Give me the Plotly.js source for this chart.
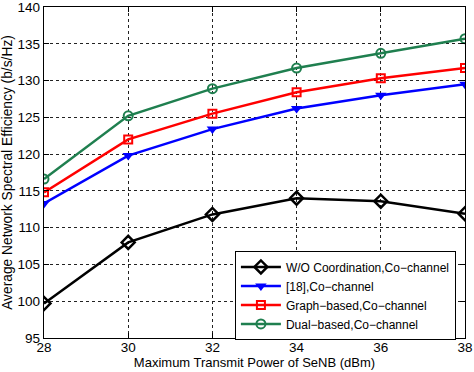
<!DOCTYPE html>
<html><head><meta charset="utf-8">
<script src="https://cdn.plot.ly/plotly-3.0.1.min.js"></script>
<style>html,body{margin:0;padding:0;background:#fff}#c{width:474px;height:372px}</style>
</head><body><div id="c"></div>
<script>
const power = [28, 30, 32, 34, 36, 38];
const woCoord = [99.7, 108.0, 111.8, 114.0, 113.6, 111.9];
const ref18 = [113.3, 119.8, 123.4, 126.2, 128.0, 129.5];
const graphBased = [114.8, 122.0, 125.5, 128.4, 130.3, 131.7];
const dualBased = [116.6, 125.2, 128.9, 131.7, 133.7, 135.7];
const names = ["W/O Coordination,Co\u2212channel", "[18],Co\u2212channel", "Graph\u2212based,Co\u2212channel", "Dual\u2212based,Co\u2212channel"];

const traces = [
  {x: power, y: woCoord, name: names[0], mode: 'lines+markers',
   line: {color: '#000000', width: 2.5},
   marker: {symbol: 'diamond-open', size: 10, color: '#000000', line: {width: 2.5}}},
  {x: power, y: ref18, name: names[1], mode: 'lines+markers',
   line: {color: '#0000ff', width: 2.5},
   marker: {symbol: 'triangle-down', size: 10, color: '#0000ff'}},
  {x: power, y: graphBased, name: names[2], mode: 'lines+markers',
   line: {color: '#ff0000', width: 2.5},
   marker: {symbol: 'square-open', size: 8, color: '#ff0000', line: {width: 2}}},
  {x: power, y: dualBased, name: names[3], mode: 'lines+markers',
   line: {color: '#1f7f4f', width: 2.5},
   marker: {symbol: 'circle-open', size: 9, color: '#1f7f4f', line: {width: 2}}}
];

const axisCommon = {
  showline: true, mirror: 'ticks', linecolor: '#000', linewidth: 1.2,
  ticks: 'inside', ticklen: 5, tickcolor: '#000',
  showgrid: true, gridcolor: '#222', griddash: 'dot', gridwidth: 1,
  zeroline: false, ticklabeloverflow: 'allow',
  tickfont: {family: 'Liberation Sans, Arial, sans-serif', size: 13.5, color: '#000'}
};

const layout = {
  width: 474, height: 372,
  margin: {l: 44, r: 9, t: 7, b: 34},
  paper_bgcolor: '#fff', plot_bgcolor: '#fff',
  font: {family: 'Liberation Sans, Arial, sans-serif', color: '#000'},
  xaxis: Object.assign({}, axisCommon, {
    range: [28, 38], tickvals: power, ticktext: power.map(String), ticklabelstandoff: -3,
    title: {text: 'Maximum Transmit Power of SeNB (dBm)', font: {size: 13}, standoff: 0}
  }),
  yaxis: Object.assign({}, axisCommon, {
    range: [95, 140], dtick: 5, tick0: 95, ticklabelstandoff: 0,
    title: {text: 'Average Network Spectral Efficiency (b/s/Hz)', font: {size: 13.8}, standoff: 1}
  }),
  legend: {
    x: 0.453, y: 0.262, xanchor: 'left', yanchor: 'top',
    bgcolor: '#fff', bordercolor: '#000', borderwidth: 1.2,
    font: {size: 12, color: '#000'}, tracegroupgap: 0, itemwidth: 40
  },
  showlegend: true
};

Plotly.newPlot('c', traces, layout, {displayModeBar: false, staticPlot: true});
</script></body></html>
